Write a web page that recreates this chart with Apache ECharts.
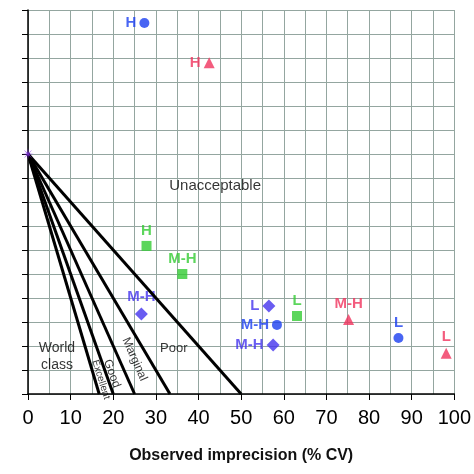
<!DOCTYPE html>
<html><head><meta charset="utf-8">
<script src="https://cdn.jsdelivr.net/npm/echarts@6/dist/echarts.min.js"></script>
<style>html,body{margin:0;padding:0;background:#fff}#c{width:474px;height:474px}</style>
</head><body><div id="c"></div>
<script>
// Sigma lines: from (0, 10) down to x-intercepts
const sigmaIntercepts = [16.7, 20, 25, 33.3, 50];
const origin = [0, 10];

// x, y, label, label position
const blueCircles = [[27.3, 15.46, 'H', 'left'], [58.4, 2.88, 'M-H', 'left'], [86.9, 2.33, 'L', 'top']];
const redTriangles = [[42.5, 13.8, 'H', 'left'], [75.2, 3.1, 'M-H', 'top'], [98.1, 1.7, 'L', 'top']];
const greenSquares = [[27.8, 6.17, 'H', 'top'], [36.2, 5.0, 'M-H', 'top'], [63.1, 3.25, 'L', 'top']];
const blueDiamonds = [[26.6, 3.33, 'M-H', 'top'], [56.5, 3.67, 'L', 'left'], [57.5, 2.04, 'M-H', 'left']];

// zone texts: x, y, text, rotate, size
const zoneTexts = [
	[43.9, 8.67, 'Unacceptable', 0, 15],
	[34.2, 1.9, 'Poor', 0, 13],
	[6.8, 1.55, 'World\nclass', 0, 14],
	[17.1, 0.6, 'Excellent', -73, 10],
	[19.7, 0.85, 'Good', -70, 12],
	[25.0, 1.45, 'Marginal', -66, 12]
];

function scatter(rows, color, symbol, size) {
	return {
		type: 'scatter', symbol: symbol, symbolSize: size, itemStyle: { color: color },
		data: rows.map(r => ({
			value: [r[0], r[1]],
			label: { show: true, formatter: r[2], position: r[3], distance: 3, color: color, fontSize: 15, fontWeight: 'bold', fontFamily: 'Liberation Sans' }
		}))
	};
}

const series = sigmaIntercepts.map(xi => ({
	type: 'line', data: [origin, [xi, 0]], symbol: 'none',
	lineStyle: { color: '#000', width: 3 }, z: 3
}));
series.push(scatter(blueCircles, '#1a3ff0', 'circle', 10));
series.push(scatter(redTriangles, '#f0335e', 'triangle', 11));
series.push(scatter(greenSquares, '#33cc33', 'rect', 10));
series.push(scatter(blueDiamonds, '#4433ee', 'diamond', 13));
series.push({
	type: 'scatter', data: [origin], symbolSize: 12, itemStyle: { color: '#8833ee' },
	symbol: 'path://M10 0L11 8L17 3L12 9L20 10L12 11L17 17L11 12L10 20L9 12L3 17L8 11L0 10L8 9L3 3L9 8Z', z: 5
});
series.push({
	type: 'scatter', symbolSize: 0, silent: true,
	data: zoneTexts.map(t => ({
		value: [t[0], t[1]],
		label: { show: true, position: 'inside', formatter: t[2], rotate: t[3], fontSize: t[4], color: '#000', fontFamily: 'Liberation Sans', lineHeight: t[4] + 3, align: 'center' }
	}))
});

const chart = echarts.init(document.getElementById('c'));
chart.setOption({
	animation: false,
	grid: { left: 28, right: 18, top: 10, bottom: 80 },
	xAxis: {
		type: 'value', min: 0, max: 100, interval: 10,
		name: 'Observed imprecision (% CV)', nameLocation: 'middle', nameGap: 54,
		nameTextStyle: { fontSize: 16, fontWeight: 'bold', color: '#111', fontFamily: 'Liberation Sans' },
		axisLine: { lineStyle: { color: '#000', width: 1.5 } },
		axisTick: { show: true, length: 6, lineStyle: { color: '#000' } },
		axisLabel: { fontSize: 20, color: '#000', margin: 14, fontFamily: 'Liberation Sans' },
		splitLine: { show: true, lineStyle: { color: '#94a6a0' } },
		minorTick: { show: false, splitNumber: 2 },
		minorSplitLine: { show: true, lineStyle: { color: '#94a6a0' } }
	},
	yAxis: {
		type: 'value', min: 0, max: 16, interval: 1,
		axisLine: { show: true, lineStyle: { color: '#000', width: 1.5 } },
		axisTick: { show: true, length: 6, lineStyle: { color: '#000' } },
		axisLabel: { show: false },
		splitLine: { show: true, lineStyle: { color: '#94a6a0' } }
	},
	series: series
});
</script>
</body></html>
